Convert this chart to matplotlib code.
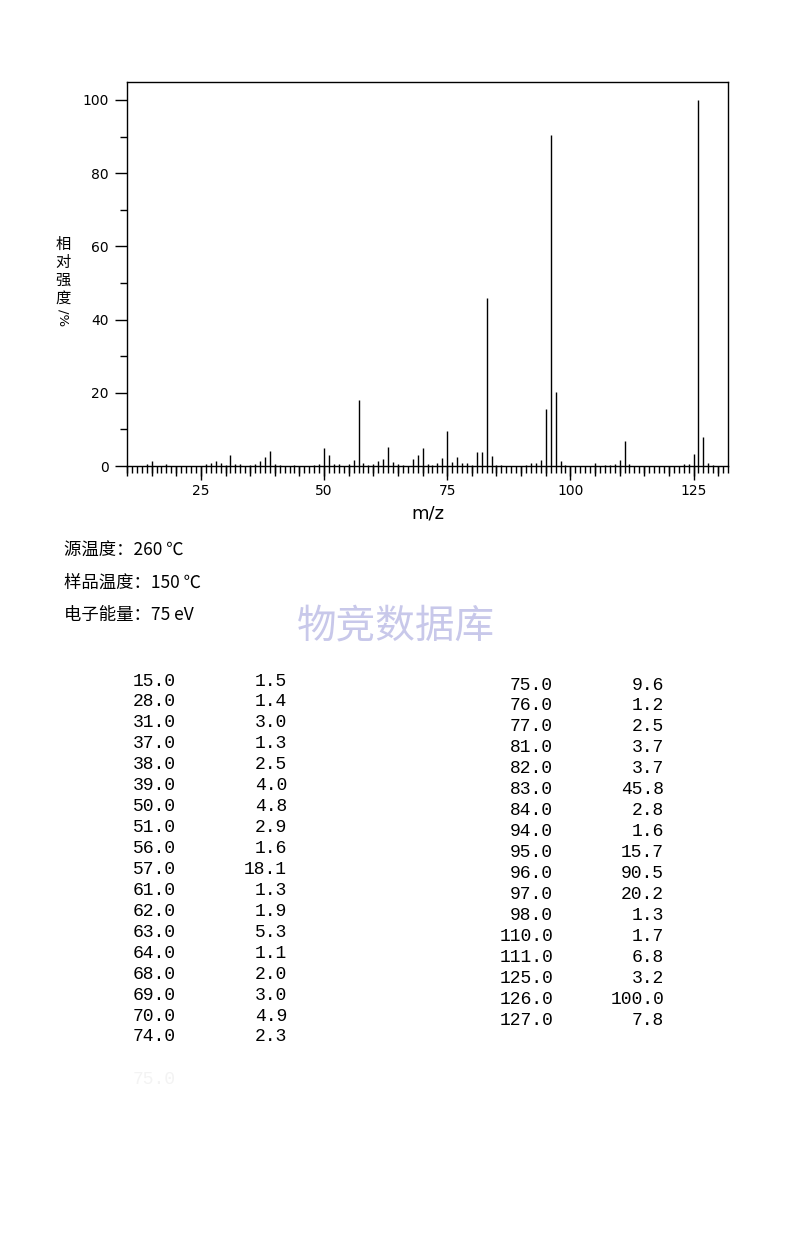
import numpy as np
import matplotlib.pyplot as plt
from matplotlib.ticker import MultipleLocator

plt.rcParams['font.family'] = ['DejaVu Sans', 'Noto Sans CJK SC']

# peaks listed in the table (m/z, relative intensity %)
table_mz = [15, 28, 31, 37, 38, 39, 50, 51, 56, 57, 61, 62, 63, 64, 68, 69, 70, 74,
            75, 76, 77, 81, 82, 83, 84, 94, 95, 96, 97, 98, 110, 111, 125, 126, 127]
table_int = [1.5, 1.4, 3.0, 1.3, 2.5, 4.0, 4.8, 2.9, 1.6, 18.1, 1.3, 1.9, 5.3, 1.1, 2.0, 3.0, 4.9, 2.3,
             9.6, 1.2, 2.5, 3.7, 3.7, 45.8, 2.8, 1.6, 15.7, 90.5, 20.2, 1.3, 1.7, 6.8, 3.2, 100.0, 7.8]

# small peaks only seen in the plot (estimated)
small_mz = [14, 18, 26, 27, 29, 30, 32, 33, 35, 36, 40, 41, 44, 48, 49, 52, 53, 55, 58, 59, 60,
            65, 66, 71, 72, 73, 78, 79, 80, 85, 86, 91, 92, 93, 99, 105, 107, 108, 109, 112,
            123, 124, 128, 129]
small_int = [0.5, 0.5, 0.5, 0.8, 0.9, 0.3, 0.5, 0.6, 0.3, 0.6, 0.5, 0.3, 0.3, 0.4, 0.6, 0.6, 0.5, 0.6, 0.8, 0.4, 0.5,
             0.5, 0.4, 0.6, 0.4, 0.7, 0.7, 0.7, 0.4, 0.3, 0.3, 0.3, 0.7, 0.8, 0.3, 0.7, 0.4, 0.4, 0.5, 0.6,
             0.5, 0.6, 0.7, 0.3]

info_lines = ['源温度：260 ℃', '样品温度：150 ℃', '电子能量：75 eV']
ylabel_chars = ['相', '对', '强', '度']

mz = np.array(table_mz + small_mz)
inten = np.array(table_int + small_int)

fig = plt.figure(figsize=(7.94, 12.47), dpi=100)
ax = fig.add_axes([127/794, 1-466/1247, (728-127)/794, (466-82)/1247])

ax.vlines(mz, 0, inten, color='black', linewidth=1.0)
ax.set_xlim(10, 132)
ax.set_ylim(0, 104.9)

for s in ax.spines.values():
    s.set_linewidth(1.0)

ax.xaxis.set_major_locator(MultipleLocator(25))
ax.xaxis.set_minor_locator(MultipleLocator(1))
ax.yaxis.set_major_locator(MultipleLocator(20))
ax.yaxis.set_minor_locator(MultipleLocator(10))
ax.tick_params(axis='x', which='major', length=10, width=1, labelsize=10, pad=3)
ax.tick_params(axis='x', which='minor', length=5, width=1)
ax.tick_params(axis='y', which='major', length=9, width=1, labelsize=10, pad=4)
ax.tick_params(axis='y', which='minor', length=5, width=1)

# medium ticks every 5
sec = ax.secondary_xaxis('bottom')
sec.xaxis.set_major_locator(MultipleLocator(5))
sec.tick_params(length=7, width=1, labelbottom=False)
sec.spines['bottom'].set_visible(False)

ax.set_xlabel('m/z', fontsize=13, labelpad=5)

# stacked y label
for i, ch in enumerate(ylabel_chars):
    fig.text(63/794, 1-(244+18*i)/1247, ch, family=['Noto Sans CJK SC'], fontsize=11,
             ha='center', va='center')
fig.text(63/794, 1-318/1247, '/%', fontsize=9.5, rotation=-90, ha='center', va='center')

for i, line in enumerate(info_lines):
    fig.text(64/794, 1-(551+32*i)/1247, line, family=['Noto Sans CJK SC'], fontsize=12.5,
             ha='left', va='center')

fig.text(396/794, 1-626/1247, '物竞数据库', family=['Noto Sans CJK SC'], fontsize=28.5,
         color='#c8c8ea', ha='center', va='center')

# peak table in two columns
n_left = 18
for i in range(len(table_mz)):
    if i < n_left:
        y = 681 + 20.94*i
        x1, x2 = 176, 287
    else:
        y = 685 + 20.94*(i-n_left)
        x1, x2 = 553, 664
    fig.text(x1/794, 1-y/1247, f'{table_mz[i]:.1f}', family='Liberation Mono', fontsize=13,
             ha='right', va='center')
    fig.text(x2/794, 1-y/1247, f'{table_int[i]:.1f}', family='Liberation Mono', fontsize=13,
             ha='right', va='center')

fig.text(176/794, 1-1079/1247, '75.0', family='Liberation Mono', fontsize=13,
         color='#f3f3f3', ha='right', va='center')

fig.savefig('out.png', dpi=100)
